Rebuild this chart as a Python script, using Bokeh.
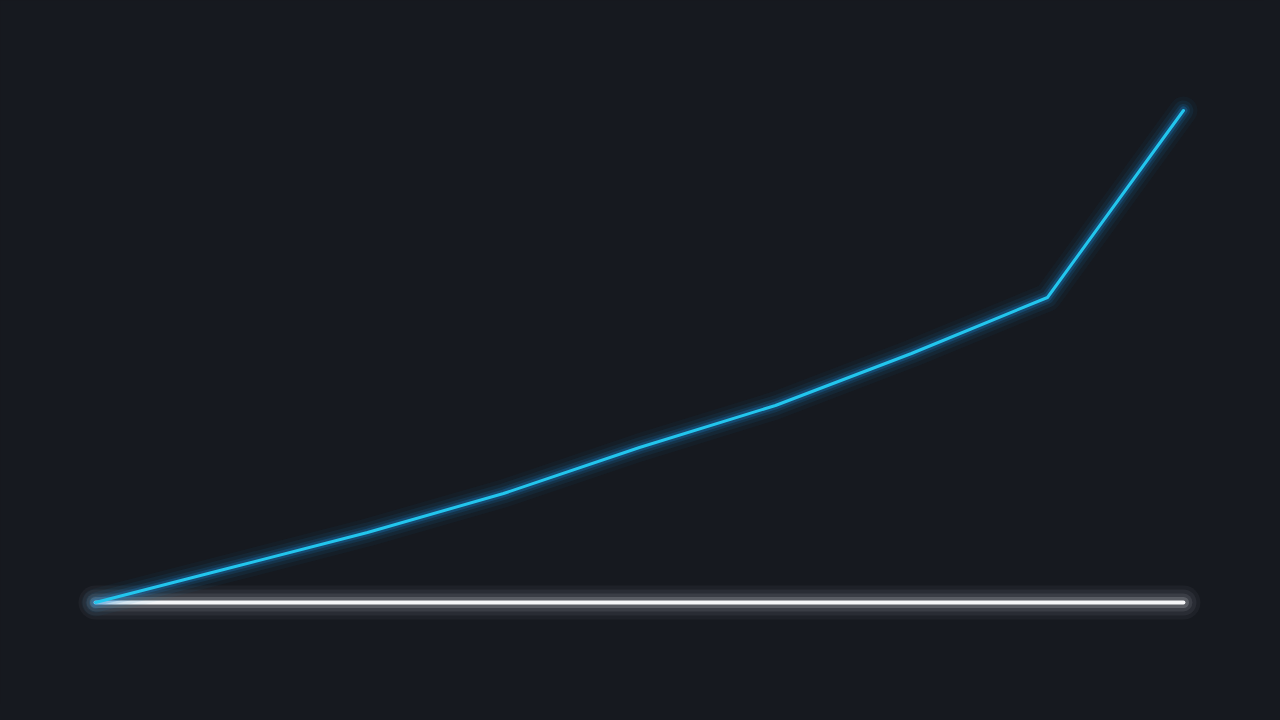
from bokeh.plotting import figure
from bokeh.models import Range1d
from bokeh.embed import file_html
from bokeh.resources import INLINE

# Data
periods = [0, 1, 2, 3, 4, 5, 6, 7, 8]
growth = [0, 3500, 7000, 10900, 15500, 19700, 24900, 30500, 49200]
baseline_x = [0, 8]
baseline_y = [0, 0]

BG = "#16191f"

p = figure(width=1264, height=704, output_backend="svg", toolbar_location=None,
           x_range=Range1d(-0.6985, 8.596), y_range=Range1d(-10200, 60200),
           min_border=0, min_border_left=0, min_border_right=0,
           min_border_top=0, min_border_bottom=0)
p.axis.visible = False
p.grid.visible = False
p.outline_line_color = None
p.background_fill_color = BG
p.border_fill_color = BG

# white baseline glow
for w, a in [(34, 0.05), (26, 0.07), (18, 0.11), (11, 0.22)]:
    p.line(baseline_x, baseline_y, line_width=w, line_color="#c8ccd2",
           line_alpha=a, line_cap="round")
p.line(baseline_x, baseline_y, line_width=4, line_color="#f5f6f8", line_cap="round")

# blue growth line glow
for w, a in [(28, 0.05), (20, 0.09), (13, 0.15), (8, 0.28)]:
    p.line(periods, growth, line_width=w, line_color="#1a80cc",
           line_alpha=a, line_cap="round", line_join="round")
p.line(periods, growth, line_width=3, line_color="#22c6ee",
       line_cap="round", line_join="round")

html = file_html(p, INLINE)
html = html.replace("<body>", '<body style="background:%s;">' % BG)
open("out.html", "w").write(html)
